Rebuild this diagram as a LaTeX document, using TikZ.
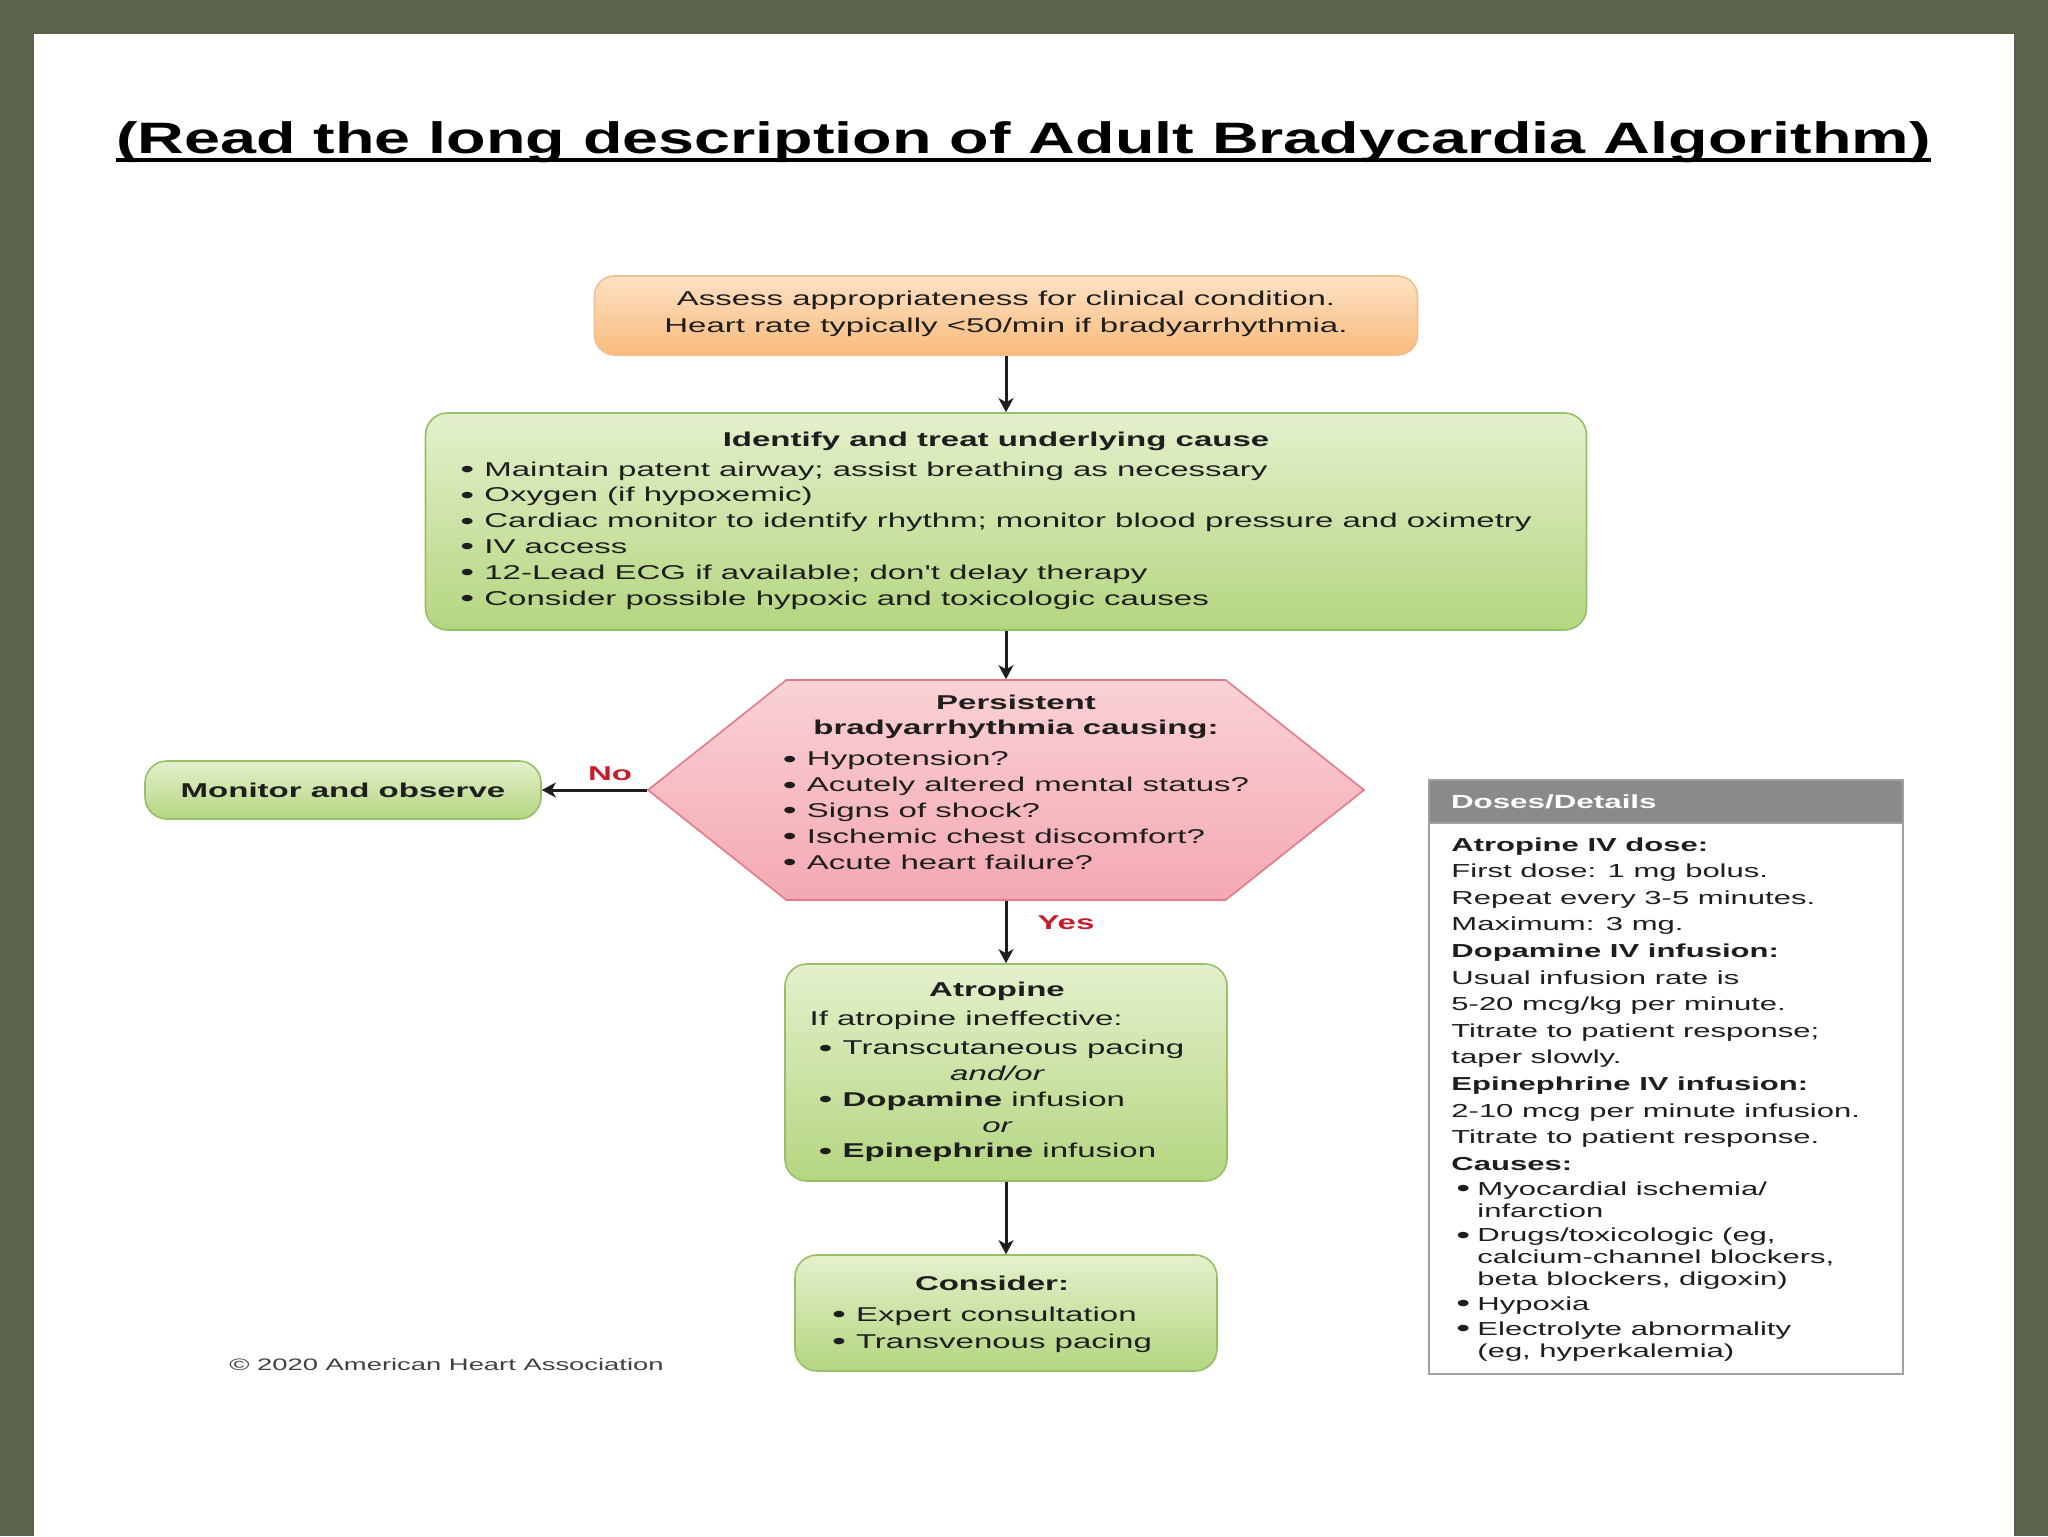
\documentclass[tikz,border=0pt]{standalone}
\usepackage{fontspec}
\setmainfont{Liberation Sans}
\newfontfamily\bodyfont[FakeStretch=1.65]{Liberation Sans}
\newfontfamily\titlefont[FakeStretch=1.47]{Liberation Sans}
\usetikzlibrary{shapes.symbols,arrows.meta,positioning}

\definecolor{slate}{RGB}{90,100,74}
\definecolor{peachtop}{RGB}{253,226,196}
\definecolor{peachbot}{RGB}{248,186,124}
\definecolor{peachline}{RGB}{244,190,140}
\definecolor{leaftop}{RGB}{228,240,204}
\definecolor{leafbot}{RGB}{180,214,128}
\definecolor{leafline}{RGB}{152,190,104}
\definecolor{rosetop}{RGB}{250,210,213}
\definecolor{rosebot}{RGB}{244,168,178}
\definecolor{roseline}{RGB}{226,122,138}
\definecolor{alarm}{RGB}{200,28,45}
\definecolor{ink}{RGB}{30,30,30}
\definecolor{headgray}{RGB}{138,138,138}
\definecolor{framegray}{RGB}{160,160,160}

\newcommand{\stack}[2]{\begin{tabular}[t]{@{}#1@{}}#2\end{tabular}}
\newcommand{\bigdot}{\raisebox{-0.7pt}{\fontsize{12}{12}\selectfont\textbullet}}
\newcommand{\bul}[1]{\makebox[12pt][l]{\bigdot}#1}
\newcommand{\cause}[1]{\hspace*{2.5pt}\makebox[10.5pt][l]{\bigdot}#1}

\begin{document}
\begin{tikzpicture}[
  x=0.5pt, y=-0.5pt,
  txt/.style={font=\bodyfont\fontsize{10}{12.9}\selectfont, text=ink, inner sep=0pt},
  peachbox/.style={rectangle, rounded corners=10pt, draw=peachline, line width=0.8pt, top color=peachtop, bottom color=peachbot},
  leafbox/.style={rectangle, rounded corners=11pt, draw=leafline, line width=0.8pt, top color=leaftop, bottom color=leafbot},
  rosehex/.style={signal, signal to=west and east, signal pointer angle=77, draw=roseline, line width=0.8pt, top color=rosetop, bottom color=rosebot, inner sep=0pt},
  answer/.style={font=\bodyfont\bfseries\fontsize{10}{12}\selectfont, text=alarm, inner sep=1pt},
  arrow/.style={-{Stealth[length=7pt, width=7.5pt, inset=2pt]}, line width=1.5pt, draw=ink},
]
  \useasboundingbox (0,0) rectangle (2048,1536);
  \fill[slate] (0,0) rectangle (2048,1536);
  \fill[white] (34,34) rectangle (2014,1536);

  % title
  \node[anchor=base, inner sep=0pt, font=\titlefont\bfseries\fontsize{22}{26}\selectfont] (title) at (1023.5,153)
    {(Read the long description of Adult Bradycardia Algorithm)};
  \draw[line width=1.6pt] ([yshift=-3.5pt]title.base west) -- ([yshift=-3.5pt]title.base east);

  % boxes
  \node[peachbox, minimum width=411.5pt, minimum height=39.5pt] (assess) at (1006,315.5) {};
  \node[leafbox, minimum width=580.5pt, minimum height=108.5pt] (identify) at (1006,521.5) {};
  \node[rosehex, minimum width=358pt, minimum height=110pt] (persist) at (1006,790) {};
  \node[leafbox, minimum width=198pt, minimum height=29pt, font=\bodyfont\bfseries\fontsize{10}{12}\selectfont, text=ink] (monitor) at (343,790) {Monitor and observe};
  \node[leafbox, minimum width=221pt, minimum height=108.5pt] (atropine) at (1006,1072.5) {};
  \node[leafbox, minimum width=211pt, minimum height=58pt] (consider) at (1006,1313) {};
  \node[rectangle, draw=framegray, line width=0.9pt, fill=white, minimum width=237pt, minimum height=297pt] (doses) at (1666,1077) {};
  \node[rectangle, draw=framegray, line width=0.9pt, fill=headgray, anchor=north, text=white,
        font=\bodyfont\bfseries\fontsize{9.5}{11}\selectfont, text width=215pt, inner xsep=11pt,
        minimum height=21.5pt, align=left] (dosehead) at (doses.north) {Doses/Details};

  % box texts
  \node[txt, anchor=base, font=\bodyfont\fontsize{10}{13.7}\selectfont] (assesstxt) at (1006,305)
    {\stack{c}{Assess appropriateness for clinical condition.\\
     Heart rate typically <50/min if bradyarrhythmia.}};
  \node[txt, anchor=base] (identifytxt) at (996,446)
    {\stack{l}{\multicolumn{1}{c}{\bfseries Identify and treat underlying cause}\\[2.1pt]
     \bul{Maintain patent airway; assist breathing as necessary}\\
     \bul{Oxygen (if hypoxemic)}\\
     \bul{Cardiac monitor to identify rhythm; monitor blood pressure and oximetry}\\
     \bul{IV access}\\
     \bul{12-Lead ECG if available; don't delay therapy}\\
     \bul{Consider possible hypoxic and toxicologic causes}}};
  \node[txt, anchor=base] (persisttxt) at (1016,709)
    {\stack{l}{\multicolumn{1}{c}{\bfseries Persistent}\\
     \multicolumn{1}{c}{\bfseries bradyarrhythmia causing:}\\[2.6pt]
     \bul{Hypotension?}\\
     \bul{Acutely altered mental status?}\\
     \bul{Signs of shock?}\\
     \bul{Ischemic chest discomfort?}\\
     \bul{Acute heart failure?}}};
  \node[txt, anchor=base] (atropinetxt) at (997,996)
    {\stack{l}{\multicolumn{1}{c}{\bfseries Atropine}\\[2pt]
     If atropine ineffective:\\[1.5pt]
     \hspace*{4.5pt}\bul{Transcutaneous pacing}\\
     \multicolumn{1}{c}{\itshape and/or}\\
     \hspace*{4.5pt}\bul{\textbf{Dopamine} infusion}\\
     \multicolumn{1}{c}{\itshape or}\\
     \hspace*{4.5pt}\bul{\textbf{Epinephrine} infusion}}};
  \node[txt, anchor=base] (considertxt) at (992,1290)
    {\stack{l}{\multicolumn{1}{c}{\bfseries Consider:}\\[2.6pt]
     \bul{Expert consultation}\\[0.6pt]
     \bul{Transvenous pacing}}};
  \node[txt, anchor=base west, font=\bodyfont\fontsize{9.4}{13.3}\selectfont] (dosetxt) at (1451,851)
    {\stack{l}{\textbf{Atropine IV dose:}\\
     First dose: 1 mg bolus.\\
     Repeat every 3-5 minutes.\\
     Maximum: 3 mg.\\
     \textbf{Dopamine IV infusion:}\\
     Usual infusion rate is\\
     5-20 mcg/kg per minute.\\
     Titrate to patient response;\\
     taper slowly.\\
     \textbf{Epinephrine IV infusion:}\\
     2-10 mcg per minute infusion.\\
     Titrate to patient response.\\
     \textbf{Causes:}\\[-0.8pt]
     \cause{Myocardial ischemia/}\\[-2.3pt]
     \hspace*{13pt}infarction\\[-1pt]
     \cause{Drugs/toxicologic (eg,}\\[-2.3pt]
     \hspace*{13pt}calcium-channel blockers,\\[-2.3pt]
     \hspace*{13pt}beta blockers, digoxin)\\[-1pt]
     \cause{Hypoxia}\\[-0.8pt]
     \cause{Electrolyte abnormality}\\[-2.3pt]
     \hspace*{13pt}(eg, hyperkalemia)}};
  \node[txt, anchor=base west, font=\bodyfont\fontsize{8.3}{10}\selectfont, text=black!75] (credit) at (229,1370)
    {\textcopyright\ 2020 American Heart Association};

  % connectors
  \draw[arrow] (assess) -- (identify);
  \draw[arrow] (identify) -- (persist);
  \draw[arrow] (persist) -- node[answer, pos=0.35, above=3pt] (no) {No} (monitor);
  \draw[arrow] (persist) -- node[answer, pos=0.35, right=14pt] (yes) {Yes} (atropine);
  \draw[arrow] (atropine) -- (consider);
\end{tikzpicture}
\end{document}
